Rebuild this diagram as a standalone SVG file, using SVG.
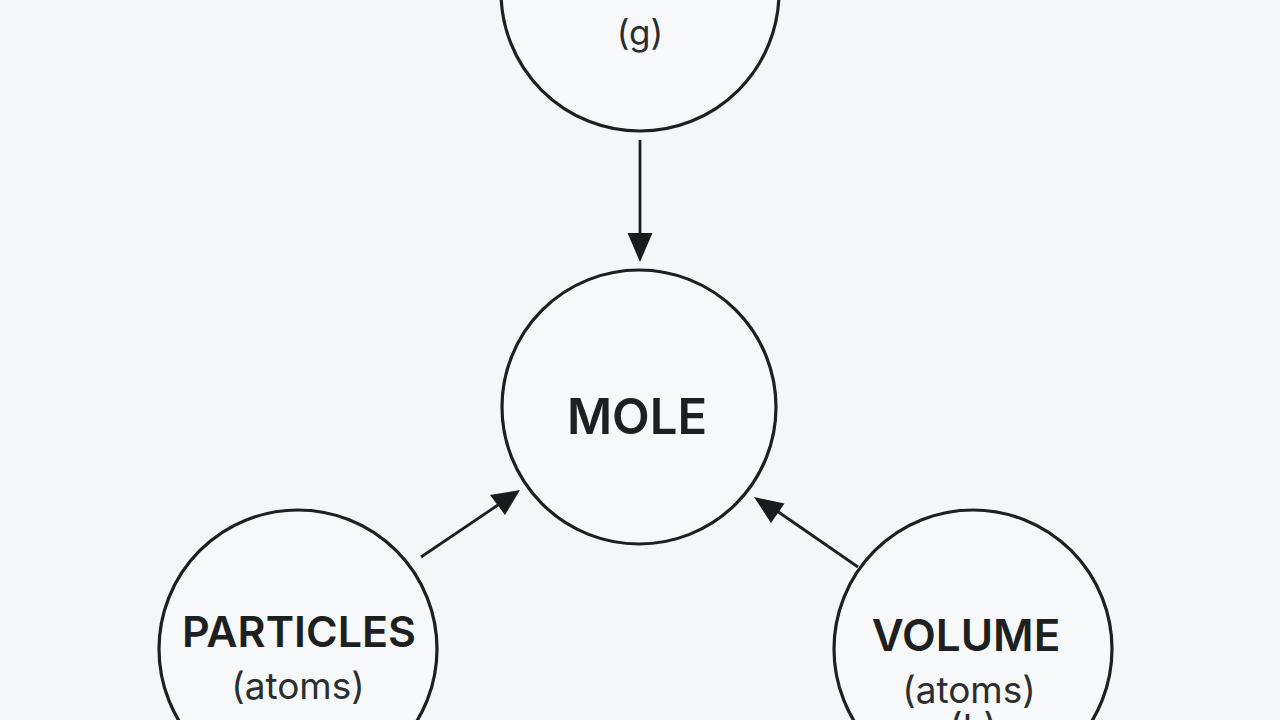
<svg xmlns="http://www.w3.org/2000/svg" width="1280" height="720" viewBox="0 0 1280 720">
<style>
.n{fill:#f6f8f9;stroke:#1e1f20;stroke-width:3.200}
.t{font-family:"Inter","Liberation Sans",sans-serif;font-weight:600;font-size:44px;fill:#1e1f20;text-anchor:middle}
.s{font-family:"Inter","Liberation Sans",sans-serif;font-weight:400;font-size:37px;fill:#2c2d2e;text-anchor:middle}
.c{stroke:#1e1f20;stroke-width:2.800;fill:none}
.h{fill:#1a1b1c}
</style>
<rect width="1280" height="720" fill="#f4f6f7"/>
<g id="connectors">
<line class="c" x1="640" y1="140" x2="640" y2="236"/><polygon class="h" points="640,262 627.500,233 652.500,233"/>
<line class="c" x1="421" y1="557" x2="498" y2="505"/><polygon class="h" points="520,490 490,495 505,515"/>
<line class="c" x1="858" y1="567" x2="777" y2="511"/><polygon class="h" points="754,497 784.500,503.500 771,523"/>
</g>
<g id="node-mass"><circle class="n" cx="640" cy="-8" r="139"/><text class="s" x="640" y="45" style="font-size:35px">(g)</text></g>
<g id="node-mole"><circle class="n" cx="639" cy="407" r="137"/><text class="t" x="637" y="434" style="font-size:49px">MOLE</text></g>
<g id="node-particles"><circle class="n" cx="298" cy="649" r="139"/><text class="t" x="299" y="647" style="font-size:43px">PARTICLES</text><text class="s" x="298" y="699">(atoms)</text></g>
<g id="node-volume"><circle class="n" cx="973" cy="649" r="139"/><text class="t" x="966" y="651">VOLUME</text><text class="s" x="969" y="703">(atoms)</text><text class="s" x="973" y="741">(L)</text></g>
</svg>
